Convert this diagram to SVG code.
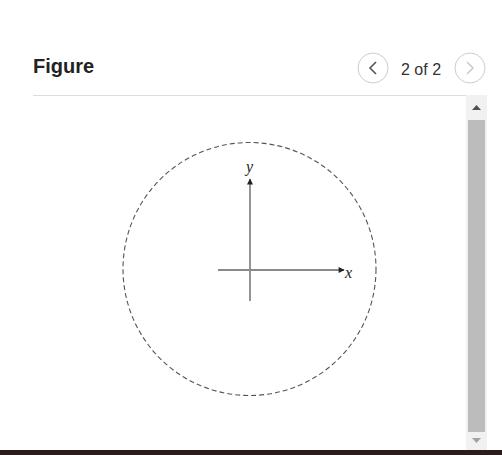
<svg xmlns="http://www.w3.org/2000/svg" width="502" height="455" viewBox="0 0 502 455">
<style>
.axis{stroke:#8a8a8a;stroke-width:1.8;fill:none}
.lbl{font-family:"Liberation Serif",serif;font-style:italic;font-size:16px;fill:#222}
.nav{fill:#fff;stroke:#ccc;stroke-width:1}
</style>
<defs>
<marker id="ah" viewBox="0 0 10 10" refX="9" refY="5" markerWidth="7" markerHeight="6" orient="auto" markerUnits="userSpaceOnUse">
<path d="M0,0 L10,5 L0,10 z" fill="#222"/>
</marker>
</defs>
<rect width="502" height="455" fill="#fff"/>
<g id="header">
<text x="33" y="73" font-family="Liberation Sans,Arial,sans-serif" font-weight="bold" font-size="20" fill="#222">Figure</text>
<circle class="nav" cx="373" cy="68" r="15"/>
<path d="M376,62 L370,68 L376,74" fill="none" stroke="#555" stroke-width="1.6"/>
<text x="401" y="75" font-family="Liberation Sans,Arial,sans-serif" font-size="16" fill="#333">2 of 2</text>
<circle class="nav" cx="470" cy="68" r="15" stroke="#e6e6e6"/>
<path d="M467,62 L473,68 L467,74" fill="none" stroke="#ccc" stroke-width="1.6"/>
<line x1="33" y1="95.5" x2="466" y2="95.5" stroke="#ddd" stroke-width="1"/>
</g>
<g id="scrollbar">
<rect x="466" y="95" width="21" height="355" fill="#f1f1f1"/>
<rect x="468" y="120" width="17" height="312" fill="#bcbcbc"/>
<path d="M472,110 L476.5,105 L481,110 z" fill="#505050"/>
<path d="M472,438 L476.5,443 L481,438 z" fill="#a3a3a3"/>
</g>
<rect x="0" y="450" width="502" height="5" fill="#2c1c1c"/>
<g id="circle">
<circle cx="249.5" cy="269" r="126.5" fill="none" stroke="#555" stroke-width="1.1" stroke-dasharray="5,3"/>
</g>
<g id="connectors">
<line class="axis" x1="250" y1="301" x2="250" y2="179" marker-end="url(#ah)"/>
<line class="axis" x1="218" y1="270" x2="344" y2="270" marker-end="url(#ah)"/>
</g>
<g id="labels">
<text class="lbl" x="246" y="172">y</text>
<text class="lbl" x="345" y="278">x</text>
</g>
</svg>
